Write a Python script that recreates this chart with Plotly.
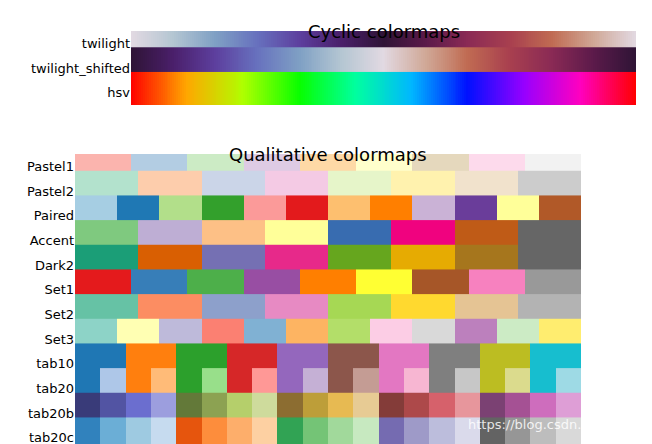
import numpy as np
import plotly.graph_objects as go

cyclic_names = ["twilight", "twilight_shifted", "hsv"]
twilight = ["#e2d9e2", "#b4c6d2", "#7fa0c4", "#6771be", "#5d3f9e", "#4a1f6a",
            "#2f1436", "#5b1a4a", "#8a2a55", "#a83f4f", "#c06b52", "#d0a897", "#e2d9e2"]
twilight_shifted = twilight[6::-1] + twilight[11:5:-1]
hsv = ["#ff0000", "#ffa700", "#afff00", "#08ff00", "#00ff9f", "#00b7ff",
       "#0010ff", "#9700ff", "#ff00bf", "#ff0000"]
cyclic_colors = [twilight, twilight_shifted, hsv]

qual_names = ["Pastel1", "Pastel2", "Paired", "Accent", "Dark2", "Set1", "Set2",
              "Set3", "tab10", "tab20", "tab20b", "tab20c"]
qual_colors = [
    "fbb4ae b3cde3 ccebc5 decbe4 fed9a6 ffffcc e5d8bd fddaec f2f2f2".split(),
    "b3e2cd fdcdac cbd5e8 f4cae4 e6f5c9 fff2ae f1e2cc cccccc".split(),
    "a6cee3 1f78b4 b2df8a 33a02c fb9a99 e31a1c fdbf6f ff7f00 cab2d6 6a3d9a ffff99 b15928".split(),
    "7fc97f beaed4 fdc086 ffff99 386cb0 f0027f bf5b17 666666".split(),
    "1b9e77 d95f02 7570b3 e7298a 66a61e e6ab02 a6761d 666666".split(),
    "e41a1c 377eb8 4daf4a 984ea3 ff7f00 ffff33 a65628 f781bf 999999".split(),
    "66c2a5 fc8d62 8da0cb e78ac3 a6d854 ffd92f e5c494 b3b3b3".split(),
    "8dd3c7 ffffb3 bebada fb8072 80b1d3 fdb462 b3de69 fccde5 d9d9d9 bc80bd ccebc5 ffed6f".split(),
    "1f77b4 ff7f0e 2ca02c d62728 9467bd 8c564b e377c2 7f7f7f bcbd22 17becf".split(),
    "1f77b4 aec7e8 ff7f0e ffbb78 2ca02c 98df8a d62728 ff9896 9467bd c5b0d5 8c564b c49c94 e377c2 f7b6d2 7f7f7f c7c7c7 bcbd22 dbdb8d 17becf 9edae5".split(),
    "393b79 5254a3 6b6ecf 9c9ede 637939 8ca252 b5cf6b cedb9c 8c6d31 bd9e39 e7ba52 e7cb94 843c39 ad494a d6616b e7969c 7b4173 a55194 ce6dbd de9ed6".split(),
    "3182bd 6baed6 9ecae1 c6dbef e6550d fd8d3c fdae6b fdd0a2 31a354 74c476 a1d99b c7e9c0 756bb1 9e9ac8 bcbddc dadaeb 636363 969696 bdbdbd d9d9d9".split(),
]

W, H = 652, 444
fig = go.Figure()

N = 256
xs = [(i + 0.5) / N for i in range(N)]
for r, cols in enumerate(cyclic_colors):
    m = len(cols)
    cs = [[k / (m - 1), c] for k, c in enumerate(cols)]
    fig.add_trace(go.Heatmap(z=[xs, xs], x=xs, y=[r - 0.42, r + 0.42], colorscale=cs,
                             zmin=0, zmax=1, showscale=False,
                             hoverinfo="skip", xaxis="x", yaxis="y"))

for r, cols in enumerate(qual_colors):
    n = len(cols)
    cs = [[k / (n - 1), "#" + c] for k, c in enumerate(cols)]
    zr = list(range(n))
    fig.add_trace(go.Heatmap(z=[zr, zr], x=[(i + 0.5) / n for i in range(n)],
                             y=[r - 0.41, r + 0.41], colorscale=cs, zmin=0, zmax=n - 1,
                             showscale=False, hoverinfo="skip",
                             xaxis="x2", yaxis="y2"))

ax = dict(showgrid=False, zeroline=False, showticklabels=False, ticks="",
          range=[0, 1], fixedrange=True)
tf = dict(family="DejaVu Sans", size=13, color="black")
fig.update_layout(
    width=W, height=H, margin=dict(l=0, r=0, t=0, b=0),
    paper_bgcolor="white", plot_bgcolor="white",
    xaxis=dict(domain=[123 / W, 628 / W], anchor="y", **ax),
    yaxis=dict(domain=[1 - 97 / H, 1 - 23 / H], anchor="x", range=[2.5, -0.5],
               tickvals=list(range(3)), ticktext=cyclic_names, showgrid=False,
               zeroline=False, ticks="", tickfont=tf),
    xaxis2=dict(domain=[67 / W, 573 / W], anchor="y2", **ax),
    yaxis2=dict(domain=[1 - 442 / H, 1 - 146 / H], anchor="x2", range=[11.5, -0.5],
                tickvals=list(range(12)), ticktext=qual_names, showgrid=False,
                zeroline=False, ticks="", tickfont=tf),
    annotations=[
        dict(text="Cyclic colormaps", x=376 / W, y=1 - 11 / H, xref="paper", yref="paper",
             showarrow=False, font=dict(family="DejaVu Sans", size=18, color="black")),
        dict(text="Qualitative colormaps", x=320 / W, y=1 - 134 / H, xref="paper", yref="paper",
             showarrow=False, font=dict(family="DejaVu Sans", size=18, color="black")),
        dict(text="https://blog.csdn.net/clony1", x=644 / W, y=1 - 426 / H, xref="paper",
             yref="paper", xanchor="right", showarrow=False,
             font=dict(family="DejaVu Sans", size=13, color="rgba(255,255,255,0.85)")),
    ],
)
fig.write_html("out.html")
